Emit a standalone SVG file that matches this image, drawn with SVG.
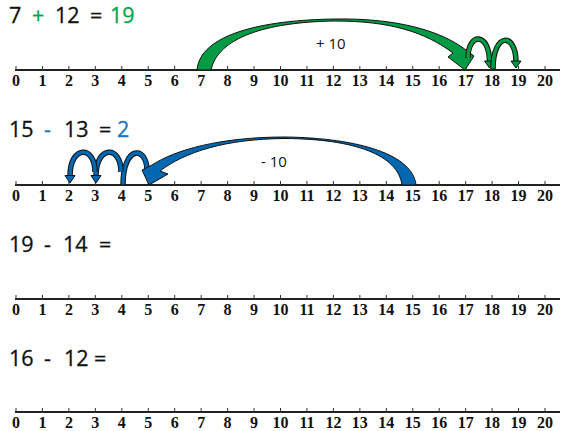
<svg xmlns="http://www.w3.org/2000/svg" xmlns:xlink="http://www.w3.org/1999/xlink" width="574" height="431" viewBox="0 0 574 431">
<style>
.eq{font-family:"Open Sans","Liberation Sans",sans-serif;font-size:21.5px;fill:#111;stroke:#111;stroke-width:0.3}
.g{fill:#00A651;stroke:#00A651}
.b{fill:#1C75BC;stroke:#1C75BC}
.lab{font-family:"Liberation Serif","DejaVu Serif",serif;font-weight:bold;font-size:16px;fill:#111;text-anchor:middle}
.jl{font-family:"Open Sans","Liberation Sans",sans-serif;font-size:15px;fill:#111}
.axis{stroke:#222;stroke-width:2;fill:none}
.tick{stroke:#333;stroke-width:1;fill:none}
.big{stroke:#111;stroke-width:1;stroke-linejoin:round}
.so{fill:none;stroke:#111;stroke-width:5.5;stroke-linecap:butt}
.sg{fill:none;stroke:#009A44;stroke-width:3.5}
.sb{fill:none;stroke:#0067B1;stroke-width:3.5}
.hg{fill:#009A44;stroke:#111;stroke-width:1;stroke-linejoin:round}
.hb{fill:#0067B1;stroke:#111;stroke-width:1;stroke-linejoin:round}
</style>
<defs>
<g id="numline">
<line class="axis" x1="15" y1="0" x2="560" y2="0"/>
<path class="tick" d="M16,-4V1M42.45,-4V1M68.9,-4V1M95.35,-4V1M121.8,-4V1M148.25,-4V1M174.7,-4V1M201.15,-4V1M227.6,-4V1M254.05,-4V1M280.5,-4V1M306.95,-4V1M333.4,-4V1M359.85,-4V1M386.3,-4V1M412.75,-4V1M439.2,-4V1M465.65,-4V1M492.1,-4V1M518.55,-4V1M545,-4V1"/>
<text class="lab" x="16" y="16">0</text>
<text class="lab" x="42.45" y="16">1</text>
<text class="lab" x="68.9" y="16">2</text>
<text class="lab" x="95.35" y="16">3</text>
<text class="lab" x="121.8" y="16">4</text>
<text class="lab" x="148.25" y="16">5</text>
<text class="lab" x="174.7" y="16">6</text>
<text class="lab" x="201.15" y="16">7</text>
<text class="lab" x="227.6" y="16">8</text>
<text class="lab" x="254.05" y="16">9</text>
<text class="lab" x="280.5" y="16">10</text>
<text class="lab" x="306.95" y="16">11</text>
<text class="lab" x="333.4" y="16">12</text>
<text class="lab" x="359.85" y="16">13</text>
<text class="lab" x="386.3" y="16">14</text>
<text class="lab" x="412.75" y="16">15</text>
<text class="lab" x="439.2" y="16">16</text>
<text class="lab" x="465.65" y="16">17</text>
<text class="lab" x="492.1" y="16">18</text>
<text class="lab" x="518.55" y="16">19</text>
<text class="lab" x="545" y="16">20</text>
</g>
</defs>

<g id="eq1">
<text class="eq" x="9" y="23">7</text>
<text class="eq g" x="32" y="23">+</text>
<text class="eq" x="55" y="23">12</text>
<text class="eq" x="90" y="23">=</text>
<text class="eq g" x="110" y="23">19</text>
</g>
<g id="eq2">
<text class="eq" x="9" y="137">15</text>
<text class="eq b" x="44" y="137">-</text>
<text class="eq" x="64" y="137">13</text>
<text class="eq" x="99" y="137">=</text>
<text class="eq b" x="117" y="137">2</text>
</g>
<g id="eq3">
<text class="eq" x="9" y="252">19</text>
<text class="eq" x="44" y="252">-</text>
<text class="eq" x="63" y="252">14</text>
<text class="eq" x="99" y="252">=</text>
</g>
<g id="eq4">
<text class="eq" x="9" y="366">16</text>
<text class="eq" x="44" y="366">-</text>
<text class="eq" x="64" y="366">12</text>
<text class="eq" x="94" y="366">=</text>
</g>

<g id="line1"><use xlink:href="#numline" transform="translate(0,70)"/></g>
<g id="line2"><use xlink:href="#numline" transform="translate(0,185)"/></g>
<g id="line3"><use xlink:href="#numline" transform="translate(0,299)"/></g>
<g id="line4"><use xlink:href="#numline" transform="translate(0,412)"/></g>

<g id="connectors">
<g id="jump-plus10">
<path class="big" fill="#009A44" d="M197,70 C200,35 260,20 335,19 C395,18 440,30 466,50 L474,56 L465,70 L448,57 L453,53 C425,32 390,21 335,21 C265,22 218,38 211,70 Z"/>
<text class="jl" x="316" y="49">+ 10</text>
</g>
<g id="jump-17-18">
<path class="so" d="M468,58 C468,32 489.5,32 489.5,62"/>
<path class="sg" d="M468,58.5 C468,32 489.5,32 489.5,62.5"/>
<polygon class="hg" points="484.5,61 494.5,61 489.5,68"/>
</g>
<g id="jump-18-19">
<path class="so" d="M493,69 C493,32 516,32 516,62"/>
<path class="sg" d="M493,68.5 C493,32 516,32 516,62.5"/>
<polygon class="hg" points="511,61 521,61 516,68"/>
</g>

<g id="jump-5-4">
<path class="so" d="M147,171 C147,145 123,145 123,185"/>
<path class="sb" d="M147,171 C147,145 123,145 123,184.5"/>
</g>
<g id="jump-4-3">
<path class="so" d="M121,172 C121,145 96,145 96,176"/>
<path class="sb" d="M121,172 C121,145 96,145 96,176.5"/>
<polygon class="hb" points="91,175.5 101,175.5 96,183"/>
</g>
<g id="jump-3-2">
<path class="so" d="M95,172 C95,145 70,145 70,176"/>
<path class="sb" d="M95,172 C95,145 70,145 70,176.5"/>
<polygon class="hb" points="65,175.5 75,175.5 70,183"/>
</g>
<g id="jump-minus10">
<path class="big" fill="#0067B1" d="M416,185 C413,155 360,138 285,137 C220,137 175,150 152,165 L142,170 L149,185 L168,174 L160,171 C185,152 225,139 285,138.5 C355,139 398,155 402,185 Z"/>
<text class="jl" x="261" y="167">- 10</text>
</g>
</g>
</svg>
